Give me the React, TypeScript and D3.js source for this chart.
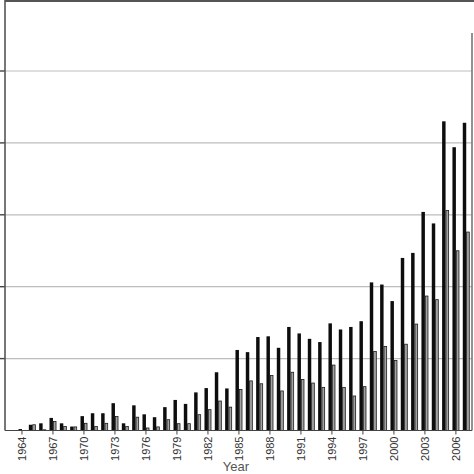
import React from "react";
import * as d3 from "d3";

const years: number[] = d3.range(1964, 2008);
const seriesA: number[] = [
  0.2, 0.8, 1.0, 1.75, 1.0, 0.55, 2.0, 2.4, 2.4, 3.8,
  1.0, 3.5, 2.25, 1.85, 3.25, 4.25, 3.7, 5.3, 5.9, 8.1,
  5.85, 11.2, 10.9, 13.0, 13.1, 11.5, 14.4, 13.5, 12.75, 12.3,
  14.9, 14.05, 14.4, 15.2, 20.6, 20.3, 18.0, 24.0, 24.7, 30.4,
  28.8, 43.0, 39.4, 42.8,
];
const seriesB: number[] = [
  0, 0.8, 0.1, 1.25, 0.55, 0.5, 1.0, 0.55, 1.0, 1.95,
  0.55, 1.85, 0.35, 0.5, 1.5, 0.95, 0.95, 2.2, 2.9, 4.1,
  3.25, 5.7, 6.9, 6.5, 7.65, 5.5, 8.1, 7.1, 6.6, 6.0,
  9.1, 6.0, 4.8, 6.1, 11.0, 11.7, 9.75, 12.0, 14.8, 18.7,
  18.2, 30.6, 25.0, 27.6,
];
const yTicks: number[] = [10, 20, 30, 40, 50];
const xTickYears: number[] = d3.range(1964, 2008, 3);
const xTitle = "Year";

export default function App() {
  const W = 474;
  const H = 474;
  const axisX = 5;
  const x = d3
    .scaleBand<number>()
    .domain(years)
    .range([16.8, 471.4])
    .paddingInner(0.33)
    .paddingOuter(0.165);
  const inner = d3
    .scaleBand<string>()
    .domain(["a", "b"])
    .range([0, x.bandwidth()])
    .padding(0);
  const y = d3.scaleLinear().domain([0, 60]).range([430.5, -0.9]);
  const base = y(0);

  return (
    <svg
      width={W}
      height={H}
      style={{ position: "absolute", left: 0, top: 0, background: "#fff" }}
      fontFamily="Liberation Sans, Arial, sans-serif"
    >
      <rect x={0} y={0} width={W} height={H} fill="#fff" />
      {/* gridlines */}
      {yTicks.map((t) => (
        <g key={t}>
          <line x1={axisX} x2={472} y1={y(t)} y2={y(t)} stroke="#bdbdbd" strokeWidth={1.2} />
          <line x1={0} x2={axisX} y1={y(t)} y2={y(t)} stroke="#444" strokeWidth={1.4} />
        </g>
      ))}
      {/* bars */}
      {years.map((yr, i) => {
        const x0 = x(yr) as number;
        const a = seriesA[i];
        const b = seriesB[i];
        return (
          <g key={yr}>
            {a > 0 && (
              <rect
                x={x0 + (inner("a") as number)}
                y={y(a)}
                width={inner.bandwidth()}
                height={base - y(a)}
                fill="#0d0d0d"
              />
            )}
            {b > 0 && (
              <rect
                x={x0 + (inner("b") as number) + 0.4}
                y={y(b)}
                width={inner.bandwidth() - 0.8}
                height={base - y(b)}
                fill="#a3a3a3"
                stroke="#1a1a1a"
                strokeWidth={0.8}
              />
            )}
          </g>
        );
      })}
      {/* axes */}
      <line x1={axisX} x2={axisX} y1={0} y2={base} stroke="#555" strokeWidth={1.6} />
      <line x1={axisX} x2={W} y1={1} y2={1} stroke="#555" strokeWidth={2} />
      <line x1={472} x2={472} y1={33} y2={base} stroke="#777" strokeWidth={1.6} />
      <line x1={axisX} x2={472} y1={base} y2={base} stroke="#444" strokeWidth={1} />
      {xTickYears.map((yr) => {
        const cx = (x(yr) as number) + x.bandwidth() / 2;
        return (
          <g key={yr}>
            <line x1={cx} x2={cx} y1={base} y2={base + 4} stroke="#444" strokeWidth={1} />
            <text
              transform={`translate(${cx + 4},${base + 6}) rotate(-90)`}
              textAnchor="end"
              fontSize={11}
              fill="#333"
            >
              {yr}
            </text>
          </g>
        );
      })}
      <text x={236} y={471} textAnchor="middle" fontSize={13} fill="#555">
        {xTitle}
      </text>
    </svg>
  );
}
